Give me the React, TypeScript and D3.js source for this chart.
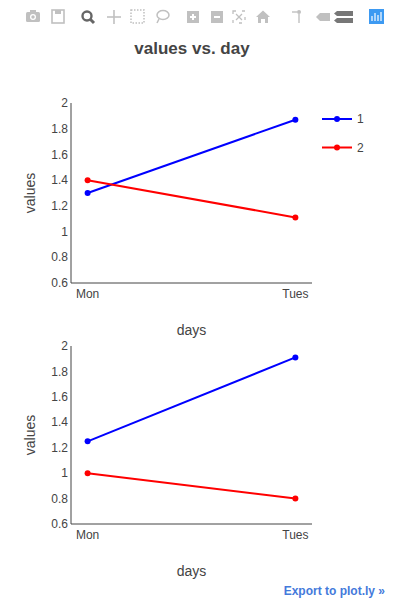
import * as React from 'react';
import * as d3 from 'd3';

const days = ['Mon', 'Tues'];
const seriesNames = ['1', '2'];
const seriesColors = ['#0000ff', '#ff0000'];
const topValues = [
  [1.3, 1.87],
  [1.4, 1.11],
];
const bottomValues = [
  [1.25, 1.91],
  [1.0, 0.8],
];
const yTicks = [0.6, 0.8, 1, 1.2, 1.4, 1.6, 1.8, 2];

const FONT = '"Liberation Sans", Arial, sans-serif';
const W = 408;
const H = 616;
const left = 71;
const right = 312;

const x = d3.scaleLinear().domain([-0.08, 1.08]).range([left, right]);

function Panel({ top, bottom, values, legend }) {
  const y = d3.scaleLinear().domain([0.6, 2]).range([bottom, top]);
  const line = d3.line<number>()
    .x((d, i) => x(i))
    .y((d) => y(d));
  return (
    <g>
      {yTicks.map((t) => (
        <text key={t} x={left - 3} y={y(t)} dy="0.35em" textAnchor="end"
          fontSize={12} fill="#444">{d3.format('~g')(t)}</text>
      ))}
      {days.map((d, i) => (
        <text key={d} x={x(i)} y={bottom + 15} textAnchor="middle"
          fontSize={12} fill="#444">{d}</text>
      ))}
      <line x1={left} x2={left} y1={top} y2={bottom} stroke="#444" />
      <line x1={left} x2={right} y1={bottom} y2={bottom} stroke="#444" />
      {values.map((s, k) => (
        <g key={k}>
          <path d={line(s)} fill="none" stroke={seriesColors[k]} strokeWidth={2} />
          {s.map((v, i) => (
            <circle key={i} cx={x(i)} cy={y(v)} r={3} fill={seriesColors[k]} />
          ))}
        </g>
      ))}
      <text x={(left + right) / 2} y={bottom + 52} textAnchor="middle"
        fontSize={14} fill="#444">days</text>
      <text transform={`translate(35, ${(top + bottom) / 2}) rotate(-90)`}
        textAnchor="middle" fontSize={14} fill="#444">values</text>
      {legend && seriesNames.map((n, k) => (
        <g key={n} transform={`translate(322, ${119 + k * 28.5})`}>
          <line x1={0} x2={30} y1={0} y2={0} stroke={seriesColors[k]} strokeWidth={2} />
          <circle cx={15} cy={0} r={3} fill={seriesColors[k]} />
          <text x={35} y={0} dy="0.35em" fontSize={12} fill="#444">{n}</text>
        </g>
      ))}
    </g>
  );
}

function ModeBar() {
  const c = '#c0c0c0';
  return (
    <g fill={c}>
      {/* camera */}
      <rect x={26} y={12} width={14} height={10} rx={1.5} />
      <rect x={30} y={10} width={6} height={3} />
      <circle cx={33} cy={17} r={3} fill="#fff" />
      <circle cx={33} cy={17} r={1.7} />
      {/* save */}
      <rect x={52} y={10} width={12} height={13} fill="none" stroke={c} strokeWidth={1.6} />
      <rect x={55} y={10} width={6} height={4} />
      {/* zoom */}
      <circle cx={87} cy={16} r={4.5} fill="none" stroke="#666" strokeWidth={2.4} />
      <line x1={90} y1={19} x2={94} y2={23} stroke="#666" strokeWidth={3} />
      {/* pan */}
      <g stroke={c} strokeWidth={1.6}>
        <line x1={107} x2={121} y1={17} y2={17} />
        <line x1={114} x2={114} y1={10} y2={24} />
      </g>
      {/* box select */}
      <rect x={131} y={10} width={13} height={13} fill="none" stroke={c}
        strokeWidth={1.5} strokeDasharray="1.5 1.5" />
      {/* lasso */}
      <ellipse cx={163} cy={15} rx={6} ry={4.5} fill="none" stroke={c} strokeWidth={1.5} />
      <line x1={159} y1={19} x2={157} y2={23} stroke={c} strokeWidth={1.5} />
      {/* zoom in / out */}
      <rect x={187} y={11} width={12} height={12} />
      <rect x={211} y={11} width={12} height={12} />
      <g stroke="#fff" strokeWidth={2}>
        <line x1={190} x2={196} y1={17} y2={17} />
        <line x1={193} x2={193} y1={14} y2={20} />
        <line x1={214} x2={220} y1={17} y2={17} />
      </g>
      {/* autoscale */}
      <rect x={233} y={11} width={12} height={12} fill="none" stroke={c}
        strokeWidth={1.3} strokeDasharray="3 6" />
      <g stroke={c} strokeWidth={1.3}>
        <line x1={236} x2={242} y1={14} y2={20} />
        <line x1={242} x2={236} y1={14} y2={20} />
      </g>
      {/* home */}
      <path d="M256,17 L263,10.5 L270,17 L268,17 L268,23 L265,23 L265,19 L261,19 L261,23 L258,23 L258,17 Z" />
      {/* spikelines */}
      <circle cx={299} cy={12} r={2} />
      <rect x={298.3} y={14} width={1.4} height={9} strokeDasharray="2 2" />
      <rect x={292} y={11.3} width={5} height={1.4} />
      {/* hover closest */}
      <path d="M316,17 L320,13 L330,13 L330,21 L320,21 Z" />
      {/* compare */}
      <path d="M337,11 L353,11 L353,16 L337,16 L334,13.5 Z" fill="#777" />
      <path d="M337,18 L353,18 L353,23 L337,23 L334,20.5 Z" fill="#777" />
      {/* plotly logo */}
      <rect x={369} y={9} width={15} height={15} fill="#3d9af2" />
      <g stroke="#fff" strokeWidth={1.2}>
        <line x1={372} x2={372} y1={16} y2={21} />
        <line x1={375} x2={375} y1={13} y2={21} />
        <line x1={378} x2={378} y1={15} y2={21} />
        <line x1={381} x2={381} y1={12} y2={21} />
      </g>
    </g>
  );
}

export default function App() {
  return (
    <svg width={W} height={H} fontFamily={FONT}
      style={{ position: 'absolute', left: 0, top: 0, background: '#fff' }}>
      <ModeBar />
      <text x={192} y={54} textAnchor="middle" fontSize={17} fontWeight="bold"
        fill="#444">values vs. day</text>
      <Panel top={103} bottom={283} values={topValues} legend />
      <Panel top={346} bottom={524} values={bottomValues} legend={false} />
      <text x={385} y={595} textAnchor="end" fontSize={12} fontWeight="bold"
        fill="#447adb">Export to plot.ly »</text>
    </svg>
  );
}
